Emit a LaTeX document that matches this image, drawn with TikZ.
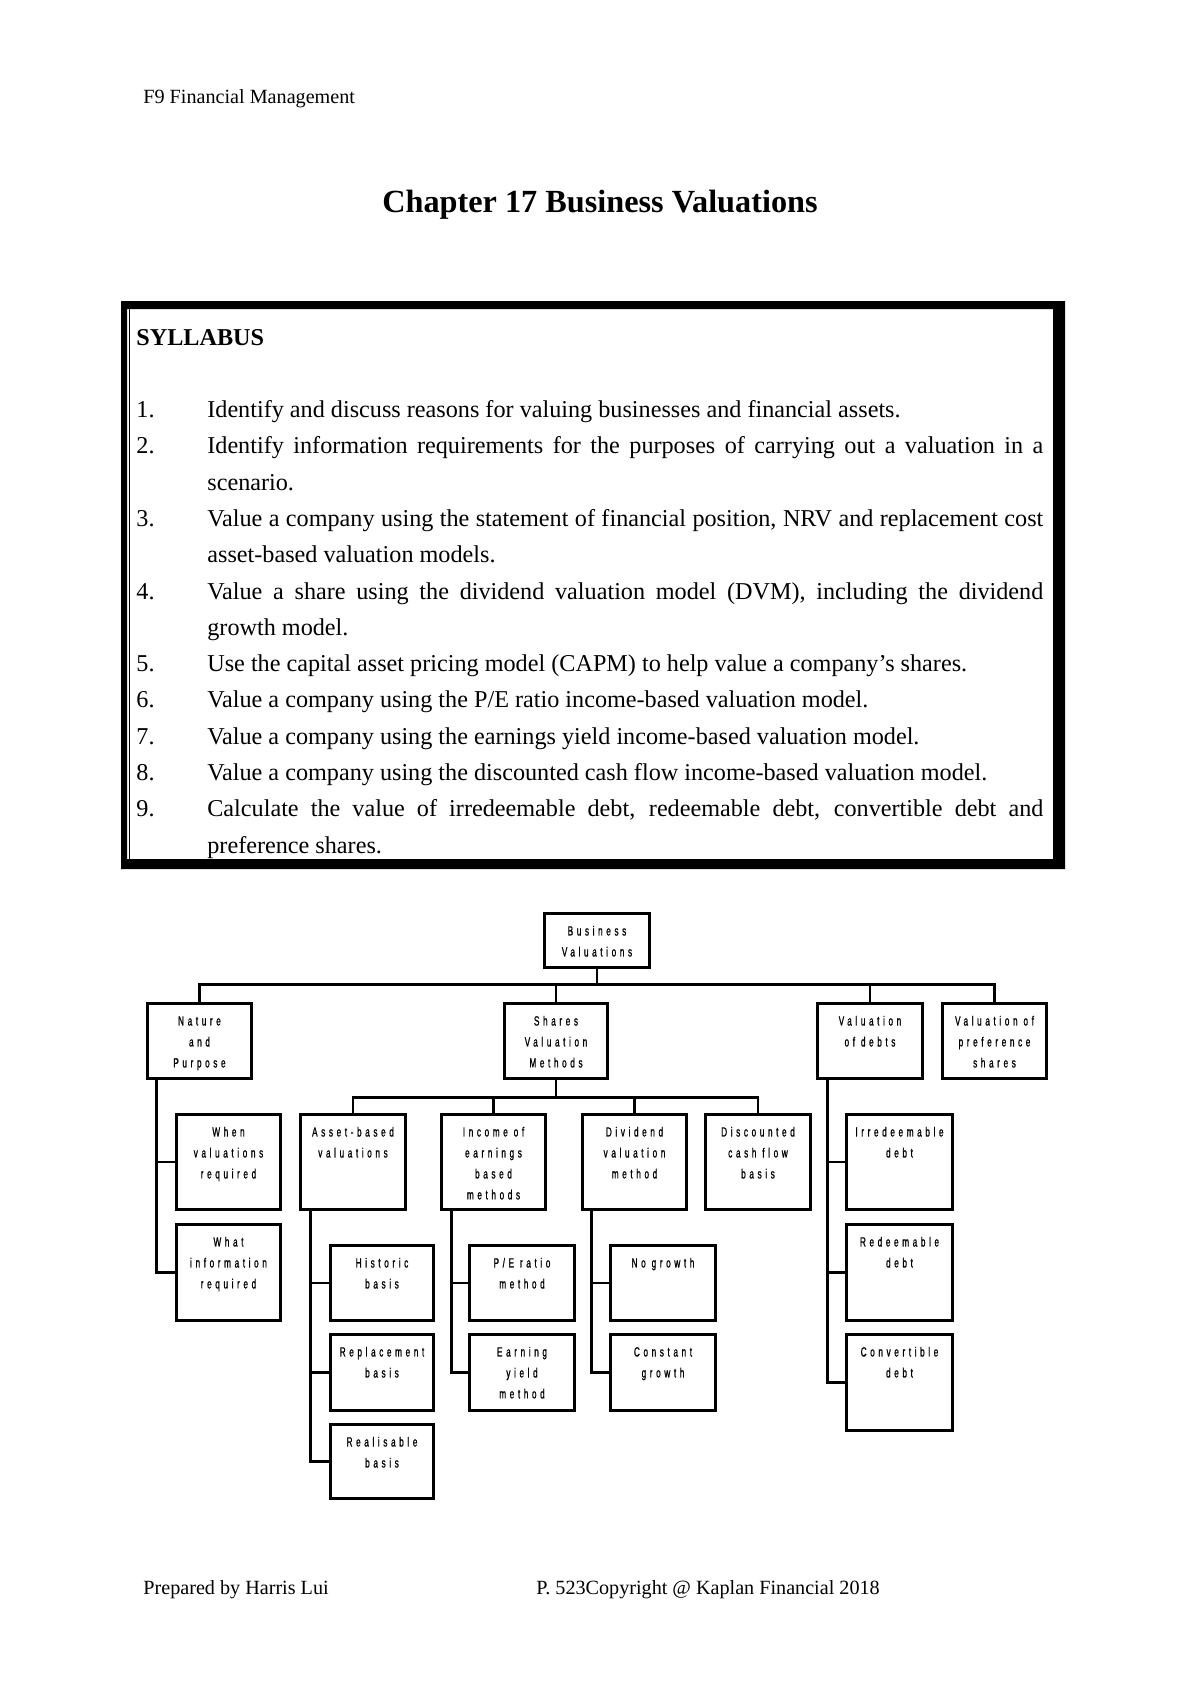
\documentclass[tikz,border=0pt]{standalone}
\usepackage{fontspec}
\setmainfont{Liberation Serif}
\newfontfamily\boxfont[FakeStretch=0.62,LetterSpace=27,FakeBold=1]{Liberation Sans}
\usetikzlibrary{calc}
\tikzset{
  boxst/.style={draw, line width=1.35pt, inner sep=0pt, fill=white},
  conn/.style={line width=1.45pt},
  plaintext/.style={inner sep=0pt, anchor=base west},
}
\newcommand\mybox[6]{%
  \pgfmathsetlengthmacro\myBW{(#4-#2-2.6)*0.49606pt}%
  \pgfmathsetlengthmacro\myBH{(#5-#3-2.6)*0.49606pt}%
  \node[boxst] (#1) at ({(#2+#4)/2},{(#3+#5)/2}) {\parbox[c][\myBH][t]{\myBW}{\centering\boxfont\fontsize{6.6}{10.4}\selectfont\rule{0pt}{11pt}#6\par}};%
}
\newcommand\sylnum[1]{\hbox to 35.2pt{#1\hfil}}
\newcommand\syljust[1]{\hbox to 414.7pt{#1}}
\begin{document}
\begin{tikzpicture}[x=0.49606pt,y=-0.49606pt]
\fill[white] (0,0) rectangle (1200,1698);
\useasboundingbox (0,0) rectangle (1200,1698);

% header, title, footer
\node[plaintext, font=\fontsize{10}{12}\selectfont] (hdr) at (143,103) {F9 Financial Management};
\node[inner sep=0pt, anchor=base, font=\fontsize{16}{19}\selectfont\bfseries] (title) at (600,212) {Chapter 17 Business Valuations};
\node[plaintext, font=\fontsize{10}{12}\selectfont] (footl) at (143,1594) {Prepared by Harris Lui};
\node[plaintext, font=\fontsize{10}{12}\selectfont] (footr) at (536,1594) {P. 523Copyright @ Kaplan Financial 2018};

% syllabus frame
\fill[black, even odd rule] (121,301) rectangle (1065,869) (127,309) rectangle (1053,859);
\draw[line width=0.5pt] (129.5,309) -- (129.5,859);

% syllabus text
\node[plaintext] (syl) at (136,345) {\fontsize{12}{18}\selectfont\vtop{\hsize=449.9pt \baselineskip=18pt
\hbox{\textbf{SYLLABUS}}
\vskip18pt
\hbox{\sylnum{1.}Identify and discuss reasons for valuing businesses and financial assets.}
\hbox{\sylnum{2.}\syljust{Identify information requirements for the purposes of carrying out a valuation in a}}
\hbox{\sylnum{}scenario.}
\hbox{\sylnum{3.}\syljust{Value a company using the statement of financial position, NRV and replacement cost}}
\hbox{\sylnum{}asset-based valuation models.}
\hbox{\sylnum{4.}\syljust{Value a share using the dividend valuation model (DVM), including the dividend}}
\hbox{\sylnum{}growth model.}
\hbox{\sylnum{5.}Use the capital asset pricing model (CAPM) to help value a company’s shares.}
\hbox{\sylnum{6.}Value a company using the P/E ratio income-based valuation model.}
\hbox{\sylnum{7.}Value a company using the earnings yield income-based valuation model.}
\hbox{\sylnum{8.}Value a company using the discounted cash flow income-based valuation model.}
\hbox{\sylnum{9.}\syljust{Calculate the value of irredeemable debt, redeemable debt, convertible debt and}}
\hbox{\sylnum{}preference shares.}
}};

% boxes
\mybox{biz}{543}{912}{651}{969}{Business\\Valuations}
\mybox{nature}{146}{1002}{253}{1080}{Nature\\and\\Purpose}
\mybox{shares}{503}{1002}{609}{1080}{Shares\\Valuation\\Methods}
\mybox{debts}{816}{1002}{924}{1080}{Valuation\\of debts}
\mybox{pref}{941}{1002}{1048}{1080}{Valuation of\\preference\\shares}
\mybox{when}{175}{1113}{282}{1211}{When\\valuations\\required}
\mybox{what}{175}{1223}{282}{1322}{What\\information\\required}
\mybox{asset}{299}{1113}{407}{1211}{Asset-based\\valuations}
\mybox{income}{440}{1113}{547}{1211}{Income of\\earnings\\based\\methods}
\mybox{divid}{581}{1113}{688}{1211}{Dividend\\valuation\\method}
\mybox{dcf}{704}{1113}{812}{1211}{Discounted\\cash flow\\basis}
\mybox{irred}{845}{1113}{954}{1211}{Irredeemable\\debt}
\mybox{redeem}{845}{1223}{954}{1322}{Redeemable\\debt}
\mybox{conv}{845}{1333}{954}{1432}{Convertible\\debt}
\mybox{hist}{329}{1244}{435}{1322}{Historic\\basis}
\mybox{repl}{329}{1333}{435}{1412}{Replacement\\basis}
\mybox{real}{329}{1423}{435}{1500}{Realisable\\basis}
\mybox{pe}{468}{1244}{576}{1322}{P/E ratio\\method}
\mybox{ey}{468}{1333}{576}{1412}{Earning\\yield\\method}
\mybox{nog}{609}{1244}{717}{1322}{No growth}
\mybox{cg}{609}{1333}{717}{1412}{Constant\\growth}

% top level connectors
\draw[conn] (biz.south) -- ++(0,15) coordinate (b1);
\draw[conn] (b1) -| (nature.north);
\draw[conn] (b1) -| (shares.north);
\draw[conn] (b1) -| (debts.north);
\draw[conn] (b1) -| (pref.north);

% shares level connectors
\draw[conn] (shares.south) -- ++(0,17) coordinate (s1);
\draw[conn] (s1) -| (asset.north);
\draw[conn] (s1) -| (income.north);
\draw[conn] (s1) -| (divid.north);
\draw[conn] (s1) -| (dcf.north);

% nature trunk
\coordinate (nt) at ($(nature.south west)+(11,0)$);
\draw[conn] (nt) |- (what.west);
\draw[conn] (nt |- when.west) -- (when.west);

% asset trunk
\coordinate (at) at ($(asset.south west)+(12,0)$);
\draw[conn] (at) |- (real.west);
\draw[conn] (at |- hist.west) -- (hist.west);
\draw[conn] (at |- repl.west) -- (repl.west);

% income trunk
\coordinate (it) at ($(income.south west)+(12,0)$);
\draw[conn] (it) |- (ey.west);
\draw[conn] (it |- pe.west) -- (pe.west);

% dividend trunk
\coordinate (dt) at ($(divid.south west)+(11,0)$);
\draw[conn] (dt) |- (cg.west);
\draw[conn] (dt |- nog.west) -- (nog.west);

% debts trunk
\coordinate (et) at ($(debts.south west)+(12,0)$);
\draw[conn] (et) |- (conv.west);
\draw[conn] (et |- irred.west) -- (irred.west);
\draw[conn] (et |- redeem.west) -- (redeem.west);
\end{tikzpicture}
\end{document}
